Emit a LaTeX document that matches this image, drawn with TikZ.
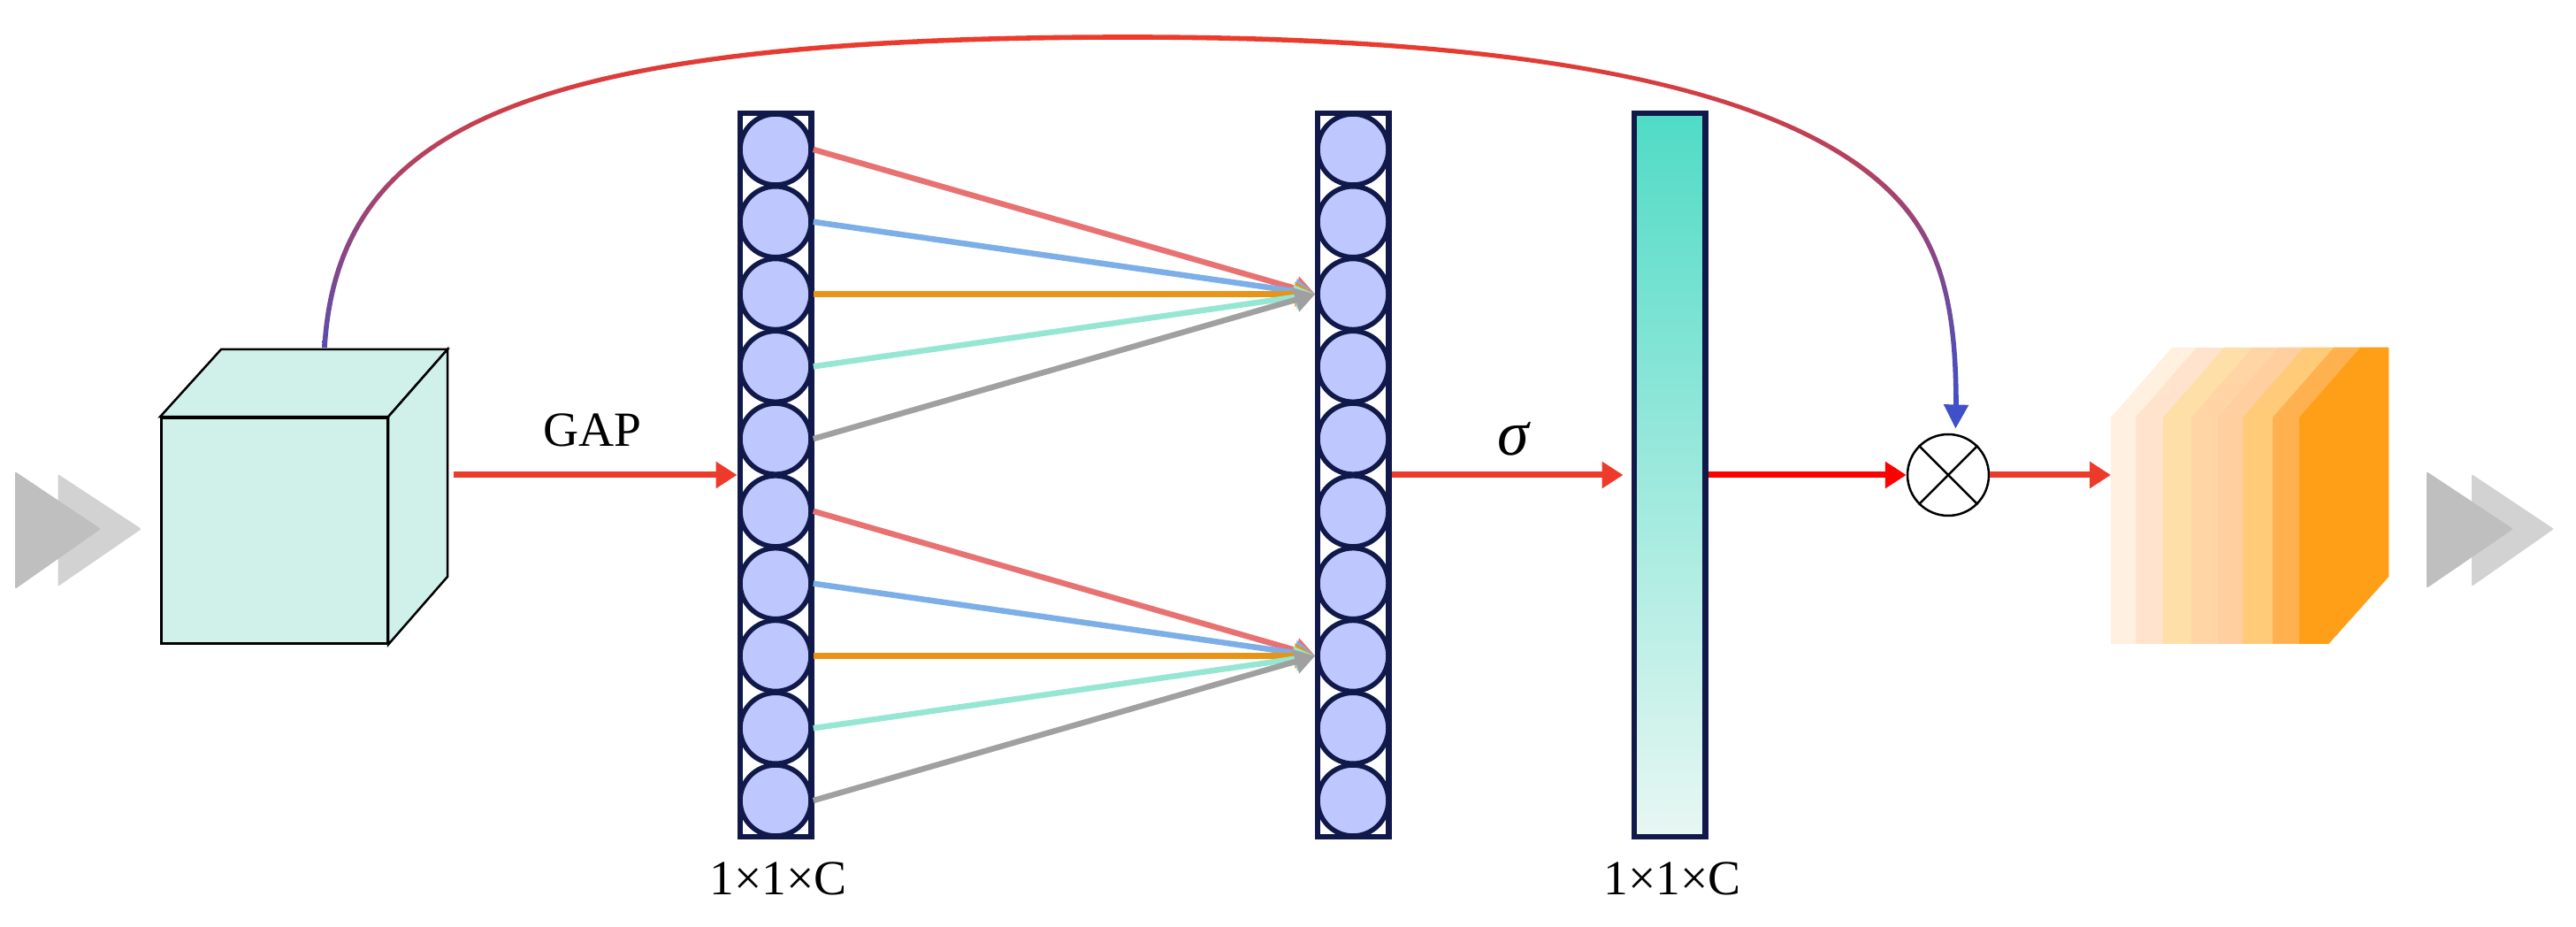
\documentclass[tikz,border=0pt]{standalone}
\usepackage{fontspec}
\setmainfont{Liberation Serif}
\usetikzlibrary{arrows.meta}
\definecolor{navy}{HTML}{10194A}
\definecolor{unitblue}{HTML}{BEC8FF}
\definecolor{cubegreen}{HTML}{CFF1E9}
\definecolor{flowred}{HTML}{EE3A2A}
\definecolor{skipblue}{HTML}{4050C8}
\definecolor{skipmid}{HTML}{B04468}
\definecolor{barA}{HTML}{50DBC6}
\definecolor{barB}{HTML}{B8EBE0}
\definecolor{barC}{HTML}{E8F7F3}
\definecolor{linkA}{HTML}{E87272}
\definecolor{linkB}{HTML}{7CAEE8}
\definecolor{linkC}{HTML}{E89418}
\definecolor{linkD}{HTML}{96E6D4}
\definecolor{linkE}{HTML}{A0A0A0}
\tikzset{
  unit/.style={circle, draw=navy, fill=unitblue, line width=.055cm, minimum size=.8cm, inner sep=0pt},
  column/.style={rectangle, draw=navy, line width=.065cm, minimum width=.805cm, minimum height=8.18cm, inner sep=0pt},
  link/.style={line width=.065cm, -{Triangle[length=.23cm,width=.27cm]}},
  flow/.style={flowred, line width=.07cm, -{Triangle[length=.24cm,width=.29cm]}},
  face/.style={draw=black, fill=cubegreen, line width=.025cm},
  lab/.style={anchor=base, font=\fontsize{15.8pt}{18pt}\selectfont, inner sep=0pt}
}
\begin{document}
\begin{tikzpicture}
    \useasboundingbox (0,0) rectangle (29.13,10.48);
    \fill[gray!35, rounded corners=.02cm] (0.655,5.12) -- (1.60,4.50) -- (0.655,3.85) -- cycle;
    \fill[gray!50, rounded corners=.02cm] (0.17,5.15) -- (1.14,4.50) -- (0.17,3.82) -- cycle;
    \fill[gray!35, rounded corners=.02cm] (27.95,5.12) -- (28.88,4.50) -- (27.95,3.85) -- cycle;
    \fill[gray!50, rounded corners=.02cm] (27.44,5.15) -- (28.42,4.50) -- (27.44,3.83) -- cycle;

    \node[face, minimum width=2.555cm, minimum height=2.55cm, inner sep=0pt] (cube) at (3.10,4.48) {};
    \draw[face] (cube.north west) -- (2.50,6.53) -- (5.06,6.53) -- (cube.north east) -- cycle;
    \draw[face] (cube.north east) -- (5.06,6.53) -- (5.06,3.96) -- (cube.south east) -- cycle;

    \node[column] (colA) at (8.77,5.11) {};
    \node[column] (colB) at (15.30,5.11) {};
    \foreach \i in {1,...,10} {
        \node[unit] (a\i) at (8.77,{8.79-0.8178*(\i-1)}) {};
        \node[unit] (b\i) at (15.30,{8.79-0.8178*(\i-1)}) {};
    }
    \node[column, top color=barA, middle color=barB, bottom color=barC] (bar) at (18.88,5.11) {};
    \node[circle, draw=black, fill=white, line width=.025cm, minimum size=.92cm, inner sep=0pt] (mul) at (22.03,5.11) {};
    \draw[black, line width=.025cm] (mul.north west) -- (mul.south east);
    \draw[black, line width=.025cm] (mul.north east) -- (mul.south west);

    \foreach \l/\c in {23.87/FFF0DF,24.15/FFE3CC,24.46/FFDFA8,24.78/FFD5A5,25.08/FFCFA0,25.36/FFCB78,25.70/FFB14F,26.00/FF9F18} {
        \definecolor{stackcol}{HTML}{\c}
        \fill[stackcol] (\l,3.20) -- (\l,5.76) -- ({\l+.69},6.55) -- (27.01,6.55) -- (27.01,3.96) -- (26.33,3.20) -- cycle;
    }

    \foreach \i/\c in {1/linkA,2/linkB,3/linkC,4/linkD,5/linkE} {
        \draw[link, \c] (a\i.east) -- (b3.west);
    }
    \foreach \i/\c in {6/linkA,7/linkB,8/linkC,9/linkD,10/linkE} {
        \draw[link, \c] (a\i.east) -- (b8.west);
    }

    \coordinate (cubeout) at (5.13,5.11);
    \coordinate (stackin) at (23.87,5.11);
    \draw[flow] (cubeout) -- (colA.west);
    \draw[flow, shorten >=.09cm] (colB.east) -- (bar.west);
    \draw[flow, red] (bar.east) -- (mul.west);
    \draw[flow] (mul.east) -- (stackin);

    \coordinate (skipout) at (3.67,6.55);
    \coordinate (skiptop) at (12.77,10.06);
    \coordinate (skipr) at (21.50,8.18);
    \coordinate (skipin) at (22.12,5.88);
    \shade[top color=flowred, middle color=skipmid, bottom color=skipblue]
        ([xshift=-.028cm]skipout) .. controls (3.795,9.10) and (6.00,10.088) .. ([yshift=.028cm]skiptop)
        .. controls (16.50,10.088) and (20.201,9.698) .. ([shift={(.021,.018)}]skipr)
        .. controls (22.016,7.638) and (22.148,6.88) .. ([xshift=.028cm]skipin)
        -- ([xshift=-.028cm]skipin)
        .. controls (22.092,6.88) and (21.974,7.602) .. ([shift={(-.021,-.018)}]skipr)
        .. controls (20.159,9.662) and (16.50,10.032) .. ([yshift=-.028cm]skiptop)
        .. controls (6.00,10.032) and (3.85,9.06) .. ([xshift=.028cm]skipout) -- cycle;
    \draw[skipblue, line width=.055cm, shorten >=.06cm, -{Triangle[length=.27cm,width=.27cm]}] (skipin) -- (mul.80);

    \node[lab] (gap) at (6.70,5.43) {GAP};
    \node[lab, font=\fontsize{20.5pt}{24pt}\selectfont\itshape] (sig) at (17.11,5.33) {σ};
    \node[lab] (sizeA) at (8.80,0.37) {1×1×C};
    \node[lab] (sizeB) at (18.91,0.37) {1×1×C};
\end{tikzpicture}
\end{document}
